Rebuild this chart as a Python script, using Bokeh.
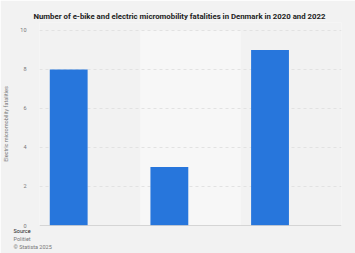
from bokeh.plotting import figure
from bokeh.models import FactorRange, Range1d, Title, SingleIntervalTicker, Span
from bokeh.transform import dodge
from bokeh.embed import file_html
from bokeh.resources import INLINE

categories = ["E-bike 2020", "Micromobility 2020", "E-bike 2022"]
fatalities = [8, 3, 9]
highlight = ["Micromobility 2020"]
title_text = "Number of e-bike and electric micromobility fatalities in Denmark in 2020 and 2022"
y_label = "Electric micromobility fatalities"
source_lines = ["Source", "Politiet", "\u00a9 Statista 2025"]

p = figure(width=355, height=253, x_range=FactorRange(*categories, range_padding=0),
           y_range=Range1d(0, 10.41), output_backend="svg", toolbar_location=None,
           min_border_left=38, min_border_right=14, min_border_top=22, min_border_bottom=28)
p.background_fill_color = "#f2f2f2"
p.border_fill_color = "#f2f2f2"
p.outline_line_color = None

p.title.text = title_text
p.title.align = "left"
p.title.text_font_size = "7.8px"
p.title.text_font_style = "bold"
p.title.text_color = "#222222"
p.title.text_font = "Roboto"
p.title.vertical_align = "top"
p.title.standoff = 0
p.title.offset = -6

p.vbar(x=highlight, top=[10], bottom=0, width=1, fill_color="#f7f7f7", line_color=None, level="underlay")
p.vbar(x=dodge("cat", -0.21, range=p.x_range), top="val", width=0.376, fill_color="#2776dc",
       line_color=None, source=dict(cat=categories, val=fatalities))

p.xaxis.visible = False
p.xgrid.grid_line_color = None
p.yaxis.ticker = SingleIntervalTicker(interval=2)
p.yaxis.axis_line_color = None
p.yaxis.major_tick_line_color = None
p.yaxis.minor_tick_line_color = None
p.yaxis.major_label_text_font_size = "5.5px"
p.yaxis.major_label_text_color = "#777777"
p.yaxis.major_label_text_font = "Roboto"
p.yaxis.major_label_standoff = 7
p.yaxis.axis_label = y_label
p.yaxis.axis_label_text_font_size = "5.5px"
p.yaxis.axis_label_text_font_style = "normal"
p.yaxis.axis_label_text_color = "#777777"
p.yaxis.axis_label_text_font = "Roboto"
p.yaxis.axis_label_standoff = 8
p.ygrid.grid_line_color = "#e2e2e2"
p.ygrid.grid_line_dash = "3 3"
p.ygrid.grid_line_width = 1

p.add_layout(Span(location=0, dimension="width", line_color="#b5b5b5", line_width=1.2))

for i, s in enumerate(source_lines):
    t = Title(text=s, align="left", text_font_size="5.5px", text_font="Roboto",
              text_font_style="normal", text_color="#222222" if i == 0 else "#777777",
              standoff=0, offset=-26)
    p.add_layout(t, "below")

open("out.html", "w").write(file_html(p, INLINE))
